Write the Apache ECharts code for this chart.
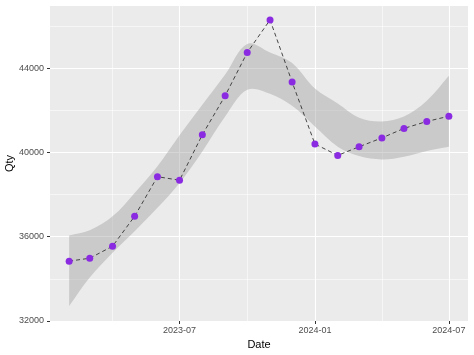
<!DOCTYPE html>
<html>
<head>
<meta charset="utf-8">
<script src="https://cdn.jsdelivr.net/npm/echarts@6/dist/echarts.min.js"></script>
<style>
  html, body { margin: 0; padding: 0; background: #ffffff; }
  #chart { width: 474px; height: 355px; }
</style>
</head>
<body>
<div id="chart"></div>
<script>
// ---- data ----
const dates = ['2023-02-01','2023-03-01','2023-04-01','2023-05-01','2023-06-01','2023-07-01',
               '2023-08-01','2023-09-01','2023-10-01','2023-11-01','2023-12-01','2024-01-01',
               '2024-02-01','2024-03-01','2024-04-01','2024-05-01','2024-06-01','2024-07-01'];
const qty = [34840, 34980, 35550, 36970, 38850, 38680,
             40840, 42690, 44740, 46290, 43340, 40400,
             39860, 40270, 40690, 41140, 41470, 41720];
const bandLower = [32710, 34060, 35240, 36260, 37370, 38550,
                   40050, 41700, 42970, 42780, 42210, 41230,
                   40270, 39830, 39670, 39800, 40070, 40270];
const bandUpper = [36060, 36310, 36970, 38080, 39340, 40810,
                   42260, 43700, 45150, 44740, 44240, 43030,
                   42320, 41650, 41470, 41700, 42450, 43640];
const xMajorTicks = ['2023-07-01', '2024-01-01', '2024-07-01'];
const xMinorTicks = ['2023-04-01', '2023-10-01', '2024-04-01'];
const yMajorTicks = [32000, 36000, 40000, 44000];
const yMinorTicks = [34000, 38000, 42000, 46000];
const xTitle = 'Date';
const yTitle = 'Qty';

// ---- build chart ----
function ts(s) { const p = s.split('-').map(Number); return Date.UTC(p[0], p[1] - 1, p[2]); }
const xMin = ts('2023-01-06');
const xMax = ts('2024-07-27');
const yMin = 32000, yMax = 46950;
const FONT = '"Liberation Sans", Arial, sans-serif';

const bandData = dates.map((d, i) => [ts(d), bandLower[i], bandUpper[i]]);
const lineData = dates.map((d, i) => [ts(d), qty[i]]);

function fmtYM(v) {
  const d = new Date(v);
  const m = d.getUTCMonth() + 1;
  return d.getUTCFullYear() + '-' + (m < 10 ? '0' + m : m);
}

function renderBand(params, api) {
  if (params.dataIndex !== 0) return null;
  const up = bandData.map(r => api.coord([r[0], r[2]]));
  const lo = bandData.map(r => api.coord([r[0], r[1]])).reverse();
  // repeat the end vertices so the smoothed outline keeps straight vertical ends
  const pts = [up[0]].concat(up, [up[up.length - 1]], [lo[0]], lo, [lo[lo.length - 1]]);
  return {
    type: 'polygon',
    shape: { points: pts, smooth: 0.35 },
    style: { fill: 'rgba(153,153,153,0.4)', stroke: 'none' },
    silent: true
  };
}

const chart = echarts.init(document.getElementById('chart'), null, { renderer: 'canvas' });
chart.setOption({
  animation: false,
  textStyle: { fontFamily: FONT },
  grid: { left: 50, right: 6, top: 6, bottom: 34, show: true, backgroundColor: '#EBEBEB', borderWidth: 0,
          containLabel: false, outerBoundsMode: 'none' },
  xAxis: [
    {
      type: 'value', min: xMin, max: xMax,
      name: xTitle, nameLocation: 'middle', nameGap: 18, nameMoveOverlap: false,
      nameTextStyle: { color: '#000000', fontSize: 11, fontFamily: FONT },
      axisLine: { show: false },
      axisTick: { show: true, length: 3, lineStyle: { color: '#333333', width: 1 }, customValues: xMajorTicks.map(ts) },
      axisLabel: { show: true, color: '#4D4D4D', fontSize: 9, margin: 5, fontFamily: FONT,
                   customValues: xMajorTicks.map(ts), formatter: fmtYM },
      splitLine: { show: true, lineStyle: { color: '#FFFFFF', width: 1.1 } }
    },
    {
      type: 'value', min: xMin, max: xMax, position: 'bottom',
      axisLine: { show: false },
      axisTick: { show: false, customValues: xMinorTicks.map(ts) },
      axisLabel: { show: false, customValues: xMinorTicks.map(ts) },
      splitLine: { show: true, lineStyle: { color: '#FFFFFF', width: 0.55 } }
    }
  ],
  yAxis: [
    {
      type: 'value', min: yMin, max: yMax,
      name: yTitle, nameLocation: 'middle', nameGap: 35, nameRotate: 90, nameMoveOverlap: false,
      nameTextStyle: { color: '#000000', fontSize: 11, fontFamily: FONT },
      axisLine: { show: false },
      axisTick: { show: true, length: 3, lineStyle: { color: '#333333', width: 1 }, customValues: yMajorTicks },
      axisLabel: { show: true, color: '#4D4D4D', fontSize: 9, margin: 6, fontFamily: FONT,
                   customValues: yMajorTicks, formatter: v => String(v) },
      splitLine: { show: true, lineStyle: { color: '#FFFFFF', width: 1.1 } }
    },
    {
      type: 'value', min: yMin, max: yMax, position: 'left',
      axisLine: { show: false },
      axisTick: { show: false, customValues: yMinorTicks },
      axisLabel: { show: false, customValues: yMinorTicks },
      splitLine: { show: true, lineStyle: { color: '#FFFFFF', width: 0.55 } }
    }
  ],
  series: [
    {
      type: 'custom', name: 'band', data: bandData,
      xAxisIndex: 0, yAxisIndex: 0,
      encode: { x: 0, y: [1, 2] },
      renderItem: renderBand, silent: true, clip: true, z: 1
    },
    {
      type: 'line', name: 'Qty', data: lineData,
      xAxisIndex: 0, yAxisIndex: 0,
      symbol: 'circle', symbolSize: 7,
      itemStyle: { color: '#8A2BE2' },
      lineStyle: { color: '#333333', width: 0.9, type: [4, 3] },
      z: 3
    }
  ]
});
</script>
</body>
</html>
